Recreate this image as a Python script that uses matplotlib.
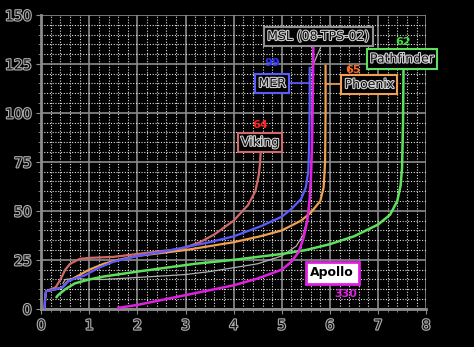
import matplotlib.pyplot as plt
import matplotlib.patheffects as pe
from matplotlib.ticker import MultipleLocator

# Curves
viking_x = [0.07, 0.08, 0.1, 0.2, 0.3, 0.4, 0.5, 0.6, 0.8, 1.0, 1.5, 2.0, 2.5, 2.9, 3.3, 3.6, 4.0, 4.3, 4.45, 4.52, 4.55, 4.56]
viking_y = [0, 5, 9, 10, 11, 15, 20, 23, 25.5, 26, 26.5, 28, 29.5, 30.5, 34, 38, 45, 53, 60, 68, 75, 80]

mer_x = [0.07, 0.08, 0.1, 0.3, 0.45, 0.56, 0.7, 0.9, 1.2, 1.5, 2.0, 2.5, 3.0, 3.5, 4.0, 4.55, 5.0, 5.2, 5.4, 5.5, 5.55, 5.57, 5.58, 5.58]
mer_y = [0, 5, 9, 10, 11, 14, 15.5, 17, 21, 24, 27, 29, 31.5, 34, 37, 42, 47, 51, 56, 62, 70, 85, 105, 123]

phoenix_x = [0.07, 0.08, 0.1, 0.3, 0.44, 0.55, 0.7, 1.0, 1.3, 1.7, 2.0, 2.5, 3.0, 3.5, 4.0, 4.55, 5.0, 5.4, 5.6, 5.8, 5.87, 5.9, 5.91, 5.91]
phoenix_y = [0, 5, 9, 10, 11, 14, 16, 20, 23, 25.5, 27, 28.5, 30, 32, 34, 37, 40, 45, 49, 55, 62, 75, 100, 124]

pathfinder_x = [0.32, 0.35, 0.5, 0.7, 1.0, 1.3, 2.0, 2.9, 3.2, 4.0, 5.0, 5.5, 6.0, 6.5, 7.0, 7.25, 7.4, 7.47, 7.5, 7.52, 7.53]
pathfinder_y = [6, 7, 10, 13, 15, 16.5, 19, 22, 23, 25, 28, 30, 33, 37, 43, 48, 55, 63, 72, 95, 123]

msl_x = [0.45, 0.5, 0.7, 1.0, 1.3, 2.0, 3.0, 3.5, 4.0, 4.5, 5.0, 5.3, 5.45, 5.55, 5.6, 5.62, 5.64]
msl_y = [13, 15, 15.5, 15, 15, 16, 17.5, 19, 21, 23, 27, 32, 38, 48, 60, 80, 125]

apollo_x = [1.6, 2.0, 2.5, 3.0, 3.5, 4.0, 4.5, 5.0, 5.2, 5.35, 5.45, 5.53, 5.58, 5.61, 5.63, 5.64, 5.65, 5.66]
apollo_y = [0.5, 2, 4.5, 7, 9.5, 12, 15.5, 20, 24, 29, 36, 45, 56, 70, 85, 100, 120, 140]

x_ticks = [0, 1, 2, 3, 4, 5, 6, 7, 8]
y_ticks = [0, 25, 50, 75, 100, 125, 150]

fig = plt.figure(figsize=(4.74, 3.47), dpi=100, facecolor='black')
ax = fig.add_axes([0.087, 0.11, 0.812, 0.847], facecolor='black')

ax.set_xlim(0, 8)
ax.set_ylim(0, 150)
ax.set_xticks(x_ticks)
ax.set_yticks(y_ticks)
ax.xaxis.set_minor_locator(MultipleLocator(0.2))
ax.yaxis.set_minor_locator(MultipleLocator(5))
ax.grid(which='major', color='#8c8c8c', lw=1.2, ls='-', zorder=0)
ax.grid(which='minor', color='#e0e0e0', lw=0.8, ls=(0, (1, 1.5)), zorder=0)
ax.set_axisbelow(True)
for s in ['top', 'right']:
    ax.spines[s].set_visible(False)
for s in ['left', 'bottom']:
    ax.spines[s].set_color('#8c8c8c')
    ax.spines[s].set_linewidth(2)
ax.tick_params(which='both', colors='#8c8c8c', labelsize=10)
ax.tick_params(which='minor', length=2)
hollow = [pe.withStroke(linewidth=1.6, foreground='#b0b0b0')]
for lab in ax.get_xticklabels() + ax.get_yticklabels():
    lab.set_color('#101010')
    lab.set_path_effects(hollow)

ax.plot(msl_x, msl_y, color='#b0b0b0', lw=0.9, zorder=3)
ax.plot(pathfinder_x, pathfinder_y, color='#5ee05e', lw=1.8, zorder=3)
ax.plot(viking_x, viking_y, color='#d06a6a', lw=1.6, zorder=3)
ax.plot(phoenix_x, phoenix_y, color='#f0a050', lw=1.6, zorder=3)
ax.plot(mer_x, mer_y, color='#5a5aff', lw=1.6, zorder=3)
ax.plot(apollo_x, apollo_y, color='#e020e0', lw=1.8, zorder=4)

# connector lines
ax.plot([4.8, 5.58], [115, 115], color='#5a5aff', lw=1.2, zorder=3)
ax.plot([6.3, 5.91], [114.5, 114.5], color='#f0a050', lw=1.2, zorder=3)
ax.plot([5.8, 5.66], [133, 125], color='#b0b0b0', lw=0.9, zorder=3)

box_txt = [pe.withStroke(linewidth=1.6, foreground='#d0d0d0')]


def label(x, y, text, edge):
    ax.text(x, y, text, ha='center', va='center', fontsize=9, color='#101010',
            path_effects=box_txt, zorder=6,
            bbox=dict(boxstyle='square,pad=0.25', fc='black', ec=edge, lw=1.5))


label(5.76, 139, 'MSL (08-TPS-02)', '#909090')
label(7.5, 127.5, 'Pathfinder', '#5ee05e')
label(4.8, 115, 'MER', '#5a5aff')
label(6.82, 114.5, 'Phoenix', '#f0a050')
label(4.55, 85, 'Viking', '#d06a6a')
ax.text(6.05, 18.4, 'Apollo', ha='center', va='center', fontsize=9, fontweight='bold',
        color='black', zorder=6,
        bbox=dict(boxstyle='square,pad=0.35', fc='white', ec='#e020e0', lw=2))

num_style = dict(ha='center', va='center', fontsize=8, fontweight='bold', zorder=6)
ax.text(7.53, 136, '62', color='#40e040', **num_style)
ax.text(4.8, 125.5, '99', color='#3030ff', **num_style)
ax.text(6.49, 122, '65', color='#ff6a20', **num_style)
ax.text(4.55, 94, '64', color='#ff2020', **num_style)
ax.text(6.32, 7.6, '330', color='#e020e0', **num_style)

fig.savefig('out.png', dpi=100, facecolor='black')
